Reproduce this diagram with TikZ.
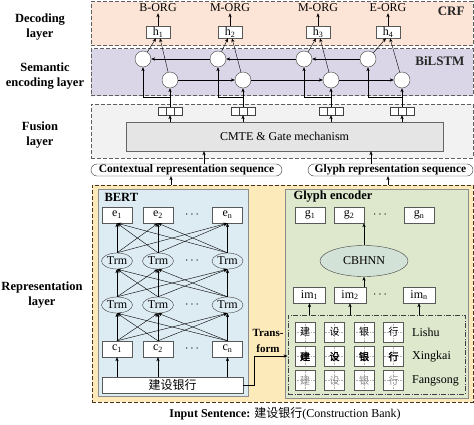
\documentclass[tikz,border=0pt]{standalone}
\usepackage{fontspec}
\setmainfont{Liberation Serif}
\newfontfamily\cjk{Noto Sans CJK SC}
\newfontfamily\cjkbold[FakeBold=2.5]{Noto Sans CJK SC}
\usetikzlibrary{arrows.meta,shapes.geometric,calc}

\definecolor{crfbg}{RGB}{252,228,214}
\definecolor{lstmbg}{RGB}{218,214,232}
\definecolor{fusebg}{RGB}{242,242,242}
\definecolor{reprbg}{RGB}{252,234,186}
\definecolor{bertbg}{RGB}{221,235,243}
\definecolor{glyphbg}{RGB}{221,232,205}
\definecolor{cbhnnbg}{RGB}{211,226,214}
\definecolor{edgegray}{RGB}{95,95,95}

\begin{document}
\begin{tikzpicture}[x=1pt,y=-1pt,font=\fontsize{12}{14}\selectfont,>={Stealth[length=4pt,width=3.2pt]},
    layer/.style={draw=edgegray,line width=0.9pt,dash pattern=on 4pt off 2pt,inner sep=0pt},
    panel/.style={draw=black!45,line width=0.4pt,inner sep=0pt},
    cell/.style={draw=black!65,fill=white,minimum width=30pt,minimum height=16pt,inner sep=0pt},
    trm/.style={draw=black!75,ellipse,fill=bertbg,minimum width=31pt,minimum height=16pt,inner sep=0pt},
    unit/.style={draw=black!75,circle,fill=white,minimum size=16pt,inner sep=0pt},
    hbox/.style={draw=black!65,fill=white,minimum width=24pt,minimum height=12pt,inner sep=0pt},
    vec/.style={draw=black!75,fill=white,minimum width=24pt,minimum height=8pt,inner sep=0pt,
      path picture={\draw ([xshift=8pt]path picture bounding box.north west) -- ([xshift=8pt]path picture bounding box.south west)
        ([xshift=-8pt]path picture bounding box.north east) -- ([xshift=-8pt]path picture bounding box.south east);}},
    seq/.style={draw=black!80,rounded corners=6pt,minimum height=12pt,inner sep=0pt,font=\fontsize{11.5}{13}\selectfont\bfseries},
    tile/.style={draw=black!65,line width=0.6pt,fill=white,minimum size=20pt,inner sep=0pt,font=\fontsize{10}{10}\selectfont,
      path picture={\draw[black!30,densely dotted] (path picture bounding box.north) -- (path picture bounding box.south)
        (path picture bounding box.west) -- (path picture bounding box.east);}},
    side/.style={font=\fontsize{12.5}{15}\selectfont\bfseries,align=center},
    tag/.style={font=\fontsize{13}{15}\selectfont\bfseries,anchor=east,text=black!85}]
  \useasboundingbox (0,0) rectangle (474,424);

  % layers
  \node[layer,fill=crfbg,minimum width=382pt,minimum height=44pt] (crf) at (282,23.5) {};
  \node[layer,fill=lstmbg,minimum width=382pt,minimum height=47pt] (lstm) at (282,72) {};
  \node[layer,fill=fusebg,minimum width=382pt,minimum height=54pt] (fuse) at (282,131) {};
  \node[layer,draw=black!60!brown,fill=reprbg,minimum width=381pt,minimum height=217pt] (rep) at (282.5,293.5) {};
  \node[panel,fill=bertbg,minimum width=150pt,minimum height=207pt] (bert) at (173,292.5) {};
  \node[panel,fill=glyphbg,minimum width=183pt,minimum height=209pt] (glp) at (376.5,293.5) {};

  \node[side] (dec) at (40,27) {Decoding\\layer};
  \node[side] (sem) at (45,76) {Semantic\\encoding layer};
  \node[side] (fus) at (40,135) {Fusion\\layer};
  \node[side] (rpl) at (42,295) {Representation\\layer};
  \node[tag] (crft) at (468,11) {CRF};
  \node[tag] (lstmt) at (468,61) {BiLSTM};

  % decoding + BiLSTM
  \foreach \x/\i/\t in {158/1/B-ORG,230/2/M-ORG,318/3/M-ORG,388/4/E-ORG} {
    \node[hbox] (h\i) at (\x,32) {h\textsubscript{\i}};
    \node[inner sep=1pt] (o\i) at (\x,8) {\t};
    \draw[->] (h\i.north) -- (o\i.south);
  }
  \foreach \x/\i in {143/1,218/2,304/3,368/4}
    \node[unit] (b\i) at (\x,59) {};
  \foreach \x/\i in {170/1,243/2,331/3,402/4} {
    \node[unit] (f\i) at (\x,80) {};
    \node[vec] (t\i) at (\x,111) {};
  }
  \foreach \i/\j in {1/2,2/3,3/4} {
    \draw[->] (b\j) -- (b\i);
    \draw[->] (f\i) -- (f\j);
  }
  \foreach \i in {1,...,4} {
    \draw[->] (b\i) -- ([xshift=-2pt]h\i.south);
    \draw[->] (f\i) -- ([xshift=2pt]h\i.south);
    \coordinate (j\i) at ($(t\i.north)+(0,-10)$);
    \draw[->] (t\i.north) -- (f\i.south);
    \draw[->] (j\i) -| (b\i.south);
  }

  % fusion
  \node[draw=black!60,fill=black!10,minimum width=317pt,minimum height=29pt] (cm) at (284.5,136.5) {CMTE \& Gate mechanism};
  \foreach \i in {1,...,4}
    \draw[->] (cm.north -| t\i) -- (t\i.south);
  \node[seq,minimum width=191pt] (cs) at (186.5,170) {Contextual representation sequence};
  \node[seq,minimum width=165pt] (gs) at (390.5,170) {Glyph representation sequence};
  \draw[->] ([xshift=17.5pt]cs.north) -- ([xshift=17.5pt]cs.north |- cm.south);
  \draw[->] ([xshift=-19.5pt]gs.north) -- ([xshift=-19.5pt]gs.north |- cm.south);
  \draw[->] ([xshift=-15.5pt]cs.south |- rep.north) -- ([xshift=-15.5pt]cs.south);
  \draw[->] ([xshift=-2.5pt]gs.south |- rep.north) -- ([xshift=-2.5pt]gs.south);

  % BERT
  \node[anchor=west,font=\fontsize{12.5}{14}\selectfont\bfseries] (bt) at (101,197) {BERT};
  \node[draw=black!65,fill=white,minimum width=141pt,minimum height=16pt,inner sep=0pt] (tb) at (172.5,385) {\cjk 建设银行};
  \foreach \x/\i/\s in {117/1/1,158/2/2,227.5/3/n} {
    \node[cell] (c\i) at (\x,349) {c\textsubscript{\s}};
    \node[trm] (ta\i) at (\x,305) {Trm};
    \node[trm] (tt\i) at (\x,261) {Trm};
    \node[cell] (e\i) at (\x,215) {e\textsubscript{\s}};
    \draw[->] (tb.north -| c\i) -- (c\i.south);
  }
  \foreach \y/\i in {349/1,305/2,261/3,215/4}
    \node (bd\i) at (192,\y) {$\cdots$};
  \foreach \i in {1,2,3}
    \foreach \j in {1,2,3} {
      \draw[->] (c\i.north) -- (ta\j.south);
      \draw[->] (ta\i.north) -- (tt\j.south);
      \draw[->] (tt\i.north) -- (e\j.south);
    }

  % glyph encoder
  \node[anchor=west,font=\fontsize{12.5}{14}\selectfont\bfseries] (gt) at (290,197) {Glyph encoder};
  \foreach \x/\i/\s in {310/1/1,349/2/2,419/3/n}
    \node[cell] (g\i) at (\x,215) {g\textsubscript{\s}};
  \foreach \x/\i/\s in {309.5/1/1,350/2/2,419/3/n}
    \node[cell,minimum width=32pt] (i\i) at (\x,295) {im\textsubscript{\s}};
  \node (gd1) at (380,215) {$\cdots$};
  \node (gd2) at (380,295) {$\cdots$};
  \node[draw=black!75,ellipse,fill=cbhnnbg,minimum width=88pt,minimum height=31pt,inner sep=0pt] (cb) at (364,261) {CBHNN};
  \draw[->] (i2.north -| cb) -- (cb.south);
  \draw[->] (cb.north) -- (cb.north |- g2.south);

  \node[draw=black!75,line width=0.9pt,dash pattern=on 5pt off 1.5pt on 1pt off 1.5pt,minimum width=177pt,minimum height=79pt,inner sep=0pt] (frm) at (376.5,354.5) {};
  \foreach \i in {1,2,3}
    \draw[->] (frm.north -| i\i) -- (i\i.south);
  \foreach \x/\ch [count=\k] in {305/建,334.5/设,364/银,393.5/行} {
    \node[tile] (l\k) at (\x,332) {\cjk\ch};
    \node[tile] (x\k) at (\x,356.5) {\cjkbold\ch};
    \node[tile,text=black!45] (s\k) at (\x,380.5) {\cjk\ch};
  }
  \node[anchor=west,inner sep=0pt] (lsh) at (412,332) {Lishu};
  \node[anchor=west,inner sep=0pt] (xgk) at (412,356.5) {Xingkai};
  \node[anchor=west,inner sep=0pt] (fgs) at (412,380.5) {Fangsong};

  % transform
  \coordinate (tf) at (254,356);
  \draw[->] (tb.east) -| (tf) -- (tf -| frm.west);
  \node[font=\fontsize{11}{16}\selectfont\bfseries,align=center] (tfl) at (268,341) {Trans-\\form};

  \node (inp) at (285,414) {\textbf{Input Sentence:} {\cjk 建设银行}(Construction Bank)};
\end{tikzpicture}
\end{document}
